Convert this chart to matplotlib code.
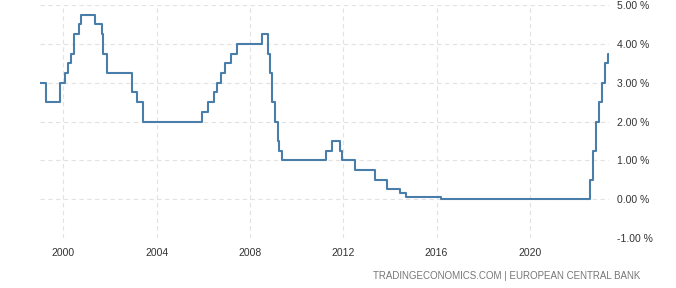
import matplotlib
matplotlib.use("Agg")
import matplotlib.pyplot as plt
import matplotlib.dates as mdates
import pandas as pd

# ECB main refinancing rate, change dates and new levels (%)
dates = ["1999-01-01", "1999-04-09", "1999-11-05", "2000-02-04", "2000-03-17",
         "2000-04-28", "2000-06-09", "2000-09-01", "2000-10-06", "2001-05-11",
         "2001-08-31", "2001-09-18", "2001-11-09", "2002-12-06", "2003-03-07",
         "2003-06-06", "2005-12-06", "2006-03-08", "2006-06-15", "2006-08-09",
         "2006-10-11", "2006-12-13", "2007-03-14", "2007-06-13", "2008-07-09",
         "2008-10-15", "2008-11-12", "2008-12-10", "2009-01-21", "2009-03-11",
         "2009-04-08", "2009-05-13", "2011-04-13", "2011-07-13", "2011-11-09",
         "2011-12-14", "2012-07-11", "2013-05-08", "2013-11-13", "2014-06-11",
         "2014-09-10", "2016-03-16", "2022-07-27", "2022-09-14", "2022-11-02",
         "2022-12-21", "2023-02-08", "2023-03-22", "2023-05-10"]
rates = [3.00, 2.50, 3.00, 3.25, 3.50,
         3.75, 4.25, 4.50, 4.75, 4.50,
         4.25, 3.75, 3.25, 2.75, 2.50,
         2.00, 2.25, 2.50, 2.75, 3.00,
         3.25, 3.50, 3.75, 4.00, 4.25,
         3.75, 3.25, 2.50, 2.00, 1.50,
         1.25, 1.00, 1.25, 1.50, 1.25,
         1.00, 0.75, 0.50, 0.25, 0.15,
         0.05, 0.00, 0.50, 1.25, 2.00,
         2.50, 3.00, 3.50, 3.75]
end_date = "2023-05-25"

x_ticks = [2000, 2004, 2008, 2012, 2016, 2020]
y_ticks = [-1, 0, 1, 2, 3, 4, 5]

LINE = "#4a7eaa"
GRID = "#e2e2e2"
TEXT = "#333333"

plt.rcParams["font.family"] = ["Liberation Sans", "DejaVu Sans"]

d = pd.to_datetime(dates + [end_date])
r = rates + [rates[-1]]

fig = plt.figure(figsize=(6.76, 2.88), dpi=100)
ax = fig.add_axes([40 / 676, 50 / 288, (609 - 40) / 676, 233 / 288])

ax.step(d, r, where="post", color=LINE, lw=1.5, zorder=3)

ax.set_xlim(d[0], d[-1])
ax.set_ylim(-1, 5)
ax.set_xticks([pd.Timestamp(f"{y}-01-01") for y in x_ticks])
ax.xaxis.set_major_formatter(mdates.DateFormatter("%Y"))
ax.set_yticks(y_ticks)
ax.set_yticklabels([f"{v:.2f} %" for v in y_ticks])
ax.yaxis.tick_right()

ax.grid(True, color=GRID, lw=0.8, ls=(0, (4, 3)))
ax.tick_params(length=0, labelsize=7.5, colors=TEXT)
ax.tick_params(axis="y", pad=6)
ax.tick_params(axis="x", pad=7)
for lbl in ax.get_yticklabels():
    lbl.set_horizontalalignment("left")
for s in ax.spines.values():
    s.set_visible(False)

fig.text(640 / 676, 1 - 276 / 288, "TRADINGECONOMICS.COM | EUROPEAN CENTRAL BANK",
         ha="right", va="center", fontsize=7, color="#777777")

fig.savefig("out.png", dpi=100, facecolor="white")
